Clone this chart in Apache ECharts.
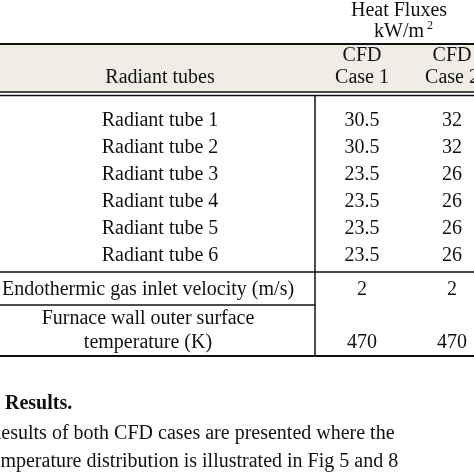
<!DOCTYPE html><html><head><meta charset="utf-8">
<script src="https://cdn.jsdelivr.net/npm/echarts@6/dist/echarts.min.js"></script>
<style>html,body{margin:0;padding:0;background:#fff}#c{width:474px;height:474px}</style></head><body><div id="c"></div>
<script>
const rowLabels=["Radiant tube 1","Radiant tube 2","Radiant tube 3","Radiant tube 4","Radiant tube 5","Radiant tube 6"];
const case1=["30.5","30.5","23.5","23.5","23.5","23.5"];
const case2=["32","32","26","26","26","26"];
const velocity=["Endothermic gas inlet velocity (m/s)","2","2"];
const wall=["Furnace wall outer surface","temperature (K)","470","470"];
const headers=["Heat Fluxes","kW/m","CFD","Case 1","CFD","Case 2","Radiant tubes"];
const bodyText=["4. Results.","Results of both CFD cases are presented where the","temperature distribution is illustrated in Fig 5 and 8"];
const F='"Liberation Serif","DejaVu Serif",serif';
const g=[];
function t(x,y,s,o){g.push(Object.assign({type:'text',x:x,y:y,style:Object.assign({text:s,font:'20px '+F,fill:'#111',align:'center',verticalAlign:'middle'},o||{})}));}
function ln(x1,y1,x2,y2,w){g.push({type:'line',shape:{x1,y1,x2,y2},style:{stroke:'#111',lineWidth:w||1.3}});}
g.push({type:'rect',shape:{x:0,y:44,width:474,height:48},style:{fill:'#efede6'}});
const c0=160,c1=362,c2=452;
t(399,11,headers[0]);t(399,32,headers[1]);t(427,26,'2',{font:'12px '+F,align:'left'});
t(c1,56,headers[2]);t(c1,78,headers[3]);t(c2,56,headers[4]);t(c2,78,headers[5]);
t(c0,78,headers[6]);
rowLabels.forEach((r,i)=>{const y=121+i*27;t(c0,y,r);t(c1,y,case1[i]);t(c2,y,case2[i]);});
t(148,290,velocity[0]);t(c1,290,velocity[1]);t(c2,290,velocity[2]);
t(148,319,wall[0]);t(148,343,wall[1]);t(c1,343,wall[2]);t(c2,343,wall[3]);
ln(0,44,474,44,1.8);ln(0,92,474,92,1.5);ln(0,95.5,474,95.5,1.5);
ln(0,272,474,272,1.6);ln(0,305,315,305,1.5);ln(0,356,474,356,1.8);
ln(315,95,315,356,1.5);
t(-15,404,bodyText[0],{align:'left',font:'bold 20px '+F});
t(-12,434,bodyText[1],{align:'left'});
t(-14,462,bodyText[2],{align:'left'});
const ch=echarts.init(document.getElementById('c'));
ch.setOption({animation:false,graphic:g});
</script></body></html>
